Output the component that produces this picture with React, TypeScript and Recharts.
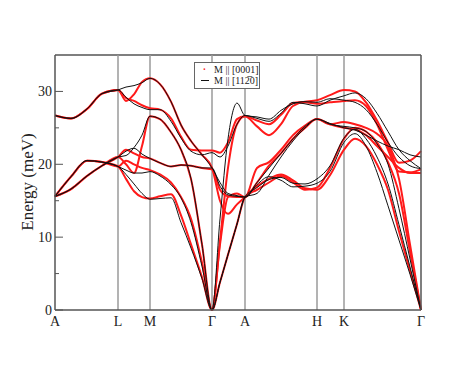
import { Line, LineChart, ReferenceLine, XAxis, YAxis } from 'recharts';

// k-path positions (distance along the path)
const K = [
  0, 16, 32, 47, 63, 71, 79, 87, 95, 105, 116, 126, 136, 147, 157, 165, 173, 182, 190,
  202, 214, 226, 238, 250, 262, 275, 289, 300, 311, 322, 333, 344, 355, 366,
];

const POINT_POS = [0, 63, 95, 157, 190, 262, 289, 366];
const POINT_LABELS = ['A', 'L', 'M', 'Γ', 'A', 'H', 'K', 'Γ'];
const Y_TICKS = [0, 5, 10, 15, 20, 25, 30];

// M || [11-20]  (black)
const B1 = [26.7, 26.3, 27.6, 29.7, 30.2, 30.6, 30.8, 31.2, 31.8, 31.0, 28.6, 25.4, 23.2, 21.3, 19.5, 17.5, 16.0, 15.7, 15.5, 17.2, 18.3, 17.8, 16.9, 17.0, 17.4, 19.0, 23.0, 24.2, 22.5, 18.9, 14.3, 9.6, 4.9, 0];
const B2 = [26.7, 26.3, 27.6, 29.7, 30.2, 29.2, 28.3, 27.8, 27.5, 27.5, 25.9, 23.6, 21.8, 21.3, 21.6, 21.0, 22.5, 25.5, 26.7, 26.3, 25.9, 27.0, 28.5, 28.3, 28.0, 28.8, 29.4, 29.8, 29.0, 27.0, 24.5, 22.0, 20.5, 19.4];
const B3 = [15.6, 18.3, 20.5, 20.3, 19.7, 18.6, 17.3, 16.0, 15.2, 15.3, 15.4, 12.0, 8.5, 4.3, 0, 3.8, 7.6, 11.8, 15.5, 16.8, 17.9, 18.2, 17.4, 17.3, 18.0, 19.8, 23.6, 24.8, 23.5, 21.0, 17.3, 11.7, 5.9, 0];
const B4 = [15.6, 18.3, 20.5, 20.3, 19.7, 19.2, 18.8, 18.8, 19.0, 18.4, 17.2, 15.4, 12.0, 6.0, 0, 3.8, 7.6, 11.8, 15.5, 16.0, 18.5, 21.0, 23.2, 25.0, 26.2, 25.5, 25.2, 25.0, 24.5, 22.8, 20.0, 13.9, 7.0, 0];
const B5 = [15.6, 16.6, 18.4, 19.8, 21.0, 21.2, 22.3, 24.0, 26.6, 26.2, 24.4, 22.0, 18.0, 9.0, 0, 12.5, 23.5, 28.4, 26.7, 26.5, 26.2, 27.4, 28.3, 28.6, 28.5, 29.0, 28.8, 28.5, 27.5, 25.5, 23.0, 21.0, 19.8, 19.4];
const B6 = [15.6, 16.6, 18.4, 19.8, 21.0, 21.8, 22.2, 21.4, 20.8, 20.2, 19.7, 19.9, 19.8, 19.5, 19.5, 17.0, 15.8, 15.6, 15.5, 17.5, 19.5, 21.5, 23.5, 25.2, 26.2, 25.6, 25.0, 24.7, 24.0, 23.2, 22.5, 22.0, 21.3, 21.0];

// M || [0001]  (red)
const R1 = [26.7, 26.3, 27.6, 29.7, 30.2, 28.7, 29.6, 31.3, 31.8, 31.0, 28.6, 25.4, 23.2, 21.3, 19.5, 15.0, 13.2, 14.5, 15.5, 17.0, 18.0, 18.6, 17.8, 16.7, 16.5, 18.5, 22.0, 23.5, 22.5, 20.0, 16.5, 10.8, 5.4, 0];
const R2 = [26.7, 26.3, 27.6, 29.7, 30.2, 29.1, 28.7, 28.1, 27.7, 27.5, 26.3, 23.8, 22.0, 21.9, 21.9, 21.6, 23.0, 26.2, 26.6, 25.2, 24.0, 25.5, 28.0, 28.5, 28.3, 28.5, 28.7, 28.8, 28.0, 25.5, 22.0, 19.0, 18.9, 19.3];
const R3 = [15.6, 18.3, 20.5, 20.3, 19.7, 18.0, 16.3, 15.5, 15.3, 15.6, 15.9, 13.0, 9.0, 4.5, 0, 3.8, 7.6, 11.8, 15.5, 16.5, 17.5, 18.4, 17.5, 16.5, 16.8, 19.5, 23.5, 25.0, 24.5, 23.0, 20.3, 16.0, 8.0, 0];
const R4 = [15.6, 18.3, 20.5, 20.3, 19.7, 20.5, 20.0, 19.5, 19.2, 18.6, 17.5, 15.5, 12.5, 6.5, 0, 9.0, 15.5, 16.0, 15.5, 17.5, 19.8, 21.5, 23.5, 25.0, 26.2, 25.5, 25.8, 25.5, 25.0, 24.2, 22.5, 18.0, 9.0, 0];
const R5 = [15.6, 16.6, 18.4, 19.8, 21.0, 20.0, 18.8, 22.5, 26.6, 26.2, 24.4, 22.0, 18.0, 9.0, 0, 9.5, 19.5, 25.5, 26.6, 26.0, 25.5, 26.8, 28.4, 28.6, 28.8, 29.5, 30.2, 30.0, 28.5, 26.0, 23.0, 20.2, 20.5, 21.8];
const R6 = [15.6, 16.6, 18.4, 19.8, 21.0, 22.0, 21.5, 21.0, 20.8, 20.2, 19.7, 19.9, 19.8, 19.5, 19.3, 16.5, 15.6, 15.5, 15.5, 19.5, 20.3, 22.0, 24.0, 25.3, 26.2, 25.5, 25.0, 24.8, 24.0, 22.5, 21.0, 19.5, 18.8, 18.8];

const BLACK = [B1, B2, B3, B4, B5, B6];
const RED = [R1, R2, R3, R4, R5, R6];

const data = K.map((k, i) => {
  const row: Record<string, number> = { k };
  BLACK.forEach((b, j) => (row[`b${j}`] = b[i]));
  RED.forEach((r, j) => (row[`r${j}`] = r[i]));
  return row;
});

const FONT = '"Liberation Serif", "DejaVu Serif", serif';
const LEFT = 55;
const RIGHT = 421;

function LeftTick(props: any) {
  const { y, payload } = props;
  const major = payload.value % 10 === 0;
  return (
    <g>
      <line x1={LEFT} x2={LEFT + (major ? 8 : 4)} y1={y} y2={y} stroke="#555" strokeWidth={1} />
      {major && (
        <text x={LEFT - 3} y={y + 5} textAnchor="end" fontSize={14} fontFamily={FONT} fill="#222">
          {payload.value}
        </text>
      )}
    </g>
  );
}

function RightTick(props: any) {
  const { y, payload } = props;
  const major = payload.value % 10 === 0;
  return <line x1={RIGHT} x2={RIGHT - (major ? 8 : 4)} y1={y} y2={y} stroke="#555" strokeWidth={1} />;
}

function XTick(props: any) {
  const { x, payload, index } = props;
  return (
    <text x={x} y={326} textAnchor="middle" fontSize={14} fontFamily={FONT} fill="#222">
      {POINT_LABELS[index] ?? payload.value}
    </text>
  );
}

export default function App() {
  return (
    <div style={{ position: 'relative', width: 474, height: 366 }}>
      <style>{`body{margin:0}`}</style>
      <LineChart width={474} height={366} data={data} margin={{ top: 55, right: 0, bottom: 0, left: 0 }}>
        <XAxis
          dataKey="k"
          type="number"
          domain={[0, 366]}
          ticks={POINT_POS}
          tick={<XTick />}
          tickLine={false}
          axisLine={{ stroke: '#555', strokeWidth: 1.5 }}
          height={56}
          interval={0}
        />
        <YAxis
          yAxisId="left"
          domain={[0, 35]}
          ticks={Y_TICKS}
          tick={<LeftTick />}
          tickLine={false}
          axisLine={{ stroke: '#555', strokeWidth: 1.5 }}
          width={55}
          interval={0}
          label={{
            content: () => (
              <text x={33} y={182} transform="rotate(-90 33 182)" textAnchor="middle" fontSize={17} fontFamily={FONT} fill="#222">
                Energy (meV)
              </text>
            ),
          }}
        />
        <YAxis
          yAxisId="right"
          orientation="right"
          domain={[0, 35]}
          ticks={Y_TICKS}
          tick={<RightTick />}
          tickLine={false}
          axisLine={{ stroke: '#555', strokeWidth: 1.5 }}
          width={53}
          interval={0}
        />
        <ReferenceLine yAxisId="left" y={35} stroke="#555" strokeWidth={1.5} />
        {POINT_POS.slice(1, -1).map((p) => (
          <ReferenceLine key={p} yAxisId="left" x={p} stroke="#9a9a9a" strokeWidth={1.5} />
        ))}
        {RED.map((_, j) => (
          <Line
            key={`r${j}`}
            yAxisId="left"
            dataKey={`r${j}`}
            type="monotone"
            stroke="#ff1a1a"
            strokeWidth={2}
            dot={false}
            isAnimationActive={false}
          />
        ))}
        {BLACK.map((_, j) => (
          <Line
            key={`b${j}`}
            yAxisId="left"
            dataKey={`b${j}`}
            type="monotone"
            stroke="#111"
            strokeWidth={1}
            dot={false}
            isAnimationActive={false}
          />
        ))}
      </LineChart>
      <div
        style={{
          position: 'absolute',
          left: 194,
          top: 62,
          width: 64,
          height: 24,
          border: '1px solid #666',
          background: '#fff',
          fontFamily: FONT,
          fontSize: 10,
          lineHeight: '11px',
          color: '#222',
          padding: '1px 0 0 0',
        }}
      >
        <div style={{ display: 'flex', alignItems: 'center' }}>
          <span style={{ width: 19, textAlign: 'center', color: '#ff1a1a', fontWeight: 'bold' }}>·</span>
          <span>M || [0001]</span>
        </div>
        <div style={{ display: 'flex', alignItems: 'center' }}>
          <span style={{ width: 19, display: 'flex', justifyContent: 'center' }}>
            <span style={{ display: 'inline-block', width: 8, height: 1, background: '#111' }} />
          </span>
          <span>M || [11{'2\u0305'}0]</span>
        </div>
      </div>
    </div>
  );
}
